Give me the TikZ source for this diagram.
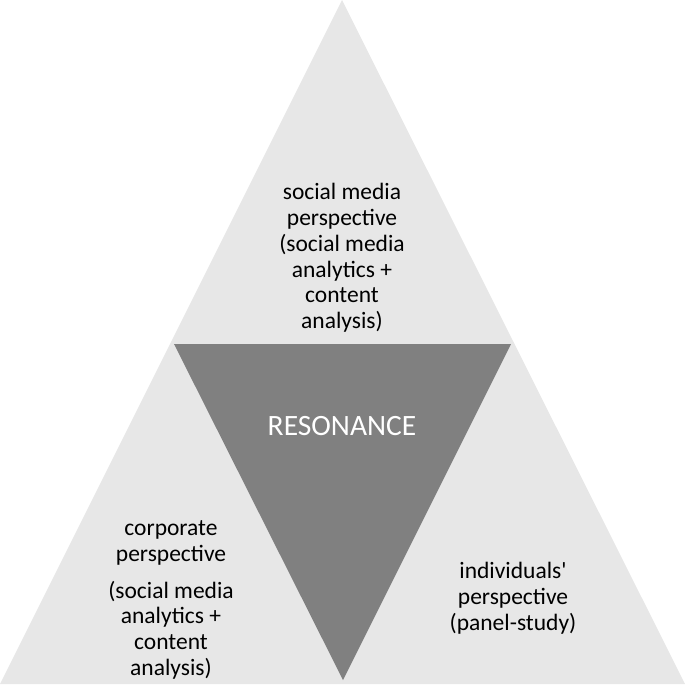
\documentclass[tikz,border=0pt]{standalone}
\usepackage{fontspec}
\setmainfont{Carlito}
\definecolor{sidegrey}{HTML}{E7E7E7}
\definecolor{coregrey}{HTML}{808080}
\tikzset{persp/.style={align=center, font=\fontsize{23.5}{25.8}\selectfont, text=black}}

\begin{document}
\begin{tikzpicture}[x=1pt,y=-1pt]
        \useasboundingbox (0,0) rectangle (685,686);
        \fill[sidegrey] (342,0) -- (685,684) -- (0,684) -- cycle;
        \fill[coregrey] (174,344) -- (511,344) -- (343,680) -- cycle;
        \node[text=white, font=\fontsize{29.5}{33}\selectfont] (resonance) at (342,426) {RESONANCE};
        \node[persp] (social) at (342,258) {social media\\perspective\\(social media\\analytics +\\content\\analysis)};
        \node[persp] (corporate) at (171,600) {corporate\\perspective\\[11pt](social media\\analytics +\\content\\analysis)};
        \node[persp] (individuals) at (513,598) {individuals\textquotesingle\\perspective\\(panel-study)};
\end{tikzpicture}
\end{document}
